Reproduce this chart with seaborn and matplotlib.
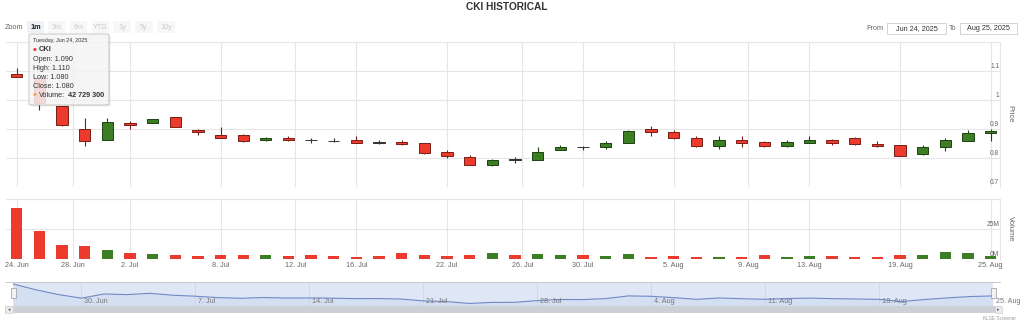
import numpy as np
import pandas as pd
import matplotlib
matplotlib.use("Agg")
import matplotlib.pyplot as plt
import seaborn as sns
from matplotlib.patches import Rectangle, FancyBboxPatch
from matplotlib.lines import Line2D

# ---------------- data ----------------
dates = ["2025-06-24", "2025-06-25", "2025-06-26", "2025-06-27", "2025-06-30",
         "2025-07-02", "2025-07-03", "2025-07-04", "2025-07-07", "2025-07-08",
         "2025-07-09", "2025-07-10", "2025-07-11", "2025-07-14", "2025-07-15",
         "2025-07-16", "2025-07-17", "2025-07-18", "2025-07-21", "2025-07-22",
         "2025-07-23", "2025-07-24", "2025-07-25", "2025-07-28", "2025-07-29",
         "2025-07-30", "2025-07-31", "2025-08-01", "2025-08-04", "2025-08-05",
         "2025-08-06", "2025-08-07", "2025-08-08", "2025-08-11", "2025-08-12",
         "2025-08-13", "2025-08-14", "2025-08-15", "2025-08-18", "2025-08-19",
         "2025-08-20", "2025-08-21", "2025-08-22", "2025-08-25"]
open_ = [1.090, 1.075, 0.980, 0.900, 0.862, 0.921, 0.920, 0.940, 0.897, 0.880,
         0.880, 0.862, 0.870, 0.863, 0.860, 0.863, 0.854, 0.855, 0.851, 0.821,
         0.805, 0.778, 0.795, 0.793, 0.828, 0.838, 0.838, 0.853, 0.900, 0.890,
         0.869, 0.842, 0.862, 0.854, 0.842, 0.852, 0.861, 0.870, 0.849, 0.844,
         0.813, 0.839, 0.860, 0.885]
high = [1.110, 1.080, 0.980, 0.937, 0.937, 0.929, 0.936, 0.940, 0.901, 0.906,
        0.884, 0.872, 0.876, 0.871, 0.868, 0.876, 0.862, 0.862, 0.851, 0.828,
        0.810, 0.798, 0.805, 0.839, 0.845, 0.843, 0.859, 0.897, 0.910, 0.897,
        0.875, 0.876, 0.876, 0.859, 0.864, 0.876, 0.866, 0.872, 0.858, 0.846,
        0.846, 0.870, 0.897, 0.899]
low = [1.080, 0.965, 0.910, 0.841, 0.862, 0.901, 0.920, 0.906, 0.878, 0.868,
       0.854, 0.858, 0.859, 0.851, 0.854, 0.851, 0.847, 0.844, 0.814, 0.799,
       0.776, 0.774, 0.782, 0.793, 0.833, 0.828, 0.832, 0.853, 0.877, 0.865,
       0.839, 0.833, 0.840, 0.839, 0.839, 0.852, 0.845, 0.846, 0.839, 0.807,
       0.811, 0.824, 0.860, 0.860]
close = [1.080, 0.990, 0.915, 0.860, 0.925, 0.915, 0.935, 0.906, 0.890, 0.868,
         0.858, 0.870, 0.862, 0.863, 0.860, 0.853, 0.854, 0.847, 0.818, 0.808,
         0.778, 0.794, 0.795, 0.822, 0.839, 0.838, 0.853, 0.895, 0.889, 0.868,
         0.842, 0.863, 0.851, 0.842, 0.854, 0.861, 0.852, 0.847, 0.841, 0.808,
         0.839, 0.864, 0.885, 0.895]
volume_m = [42.73, 23.7, 11.7, 11.1, 7.7, 5.1, 3.9, 2.8, 2.2, 3.1,
            3.6, 2.8, 2.2, 2.8, 2.6, 1.7, 2.2, 4.5, 2.8, 2.5,
            3.1, 5.1, 3.6, 3.9, 2.8, 3.1, 2.5, 3.9, 1.9, 2.0,
            1.7, 1.1, 1.7, 2.8, 1.7, 2.2, 2.5, 1.7, 1.7, 2.8,
            3.1, 6.0, 4.5, 2.2]

x_tick_labels = ["24. Jun", "28. Jun", "2. Jul", "8. Jul", "12. Jul", "16. Jul", "22. Jul",
                 "26. Jul", "30. Jul", "5. Aug", "9. Aug", "13. Aug", "19. Aug", "25. Aug"]
x_tick_pos = [0, 2.47, 5, 9, 12.3, 15, 19, 22.33, 25, 29, 32.3, 35, 39, 43]
nav_tick_labels = ["30. Jun", "7. Jul", "14. Jul", "21. Jul", "28. Jul", "4. Aug",
                   "11. Aug", "18. Aug", "25. Aug"]
nav_tick_pos = [3, 8, 13, 18, 23, 28, 33, 38, 43]
price_ticks = [0.7, 0.8, 0.9, 1.0, 1.1]
price_tick_labels = ["0.7", "0.8", "0.9", "1", "1.1"]
vol_ticks = [0, 25]
vol_tick_labels = ["0M", "25M"]
zoom_buttons = ["1m", "3m", "6m", "YTD", "1y", "5y", "10y"]

# ---------------- style ----------------
RED = "#ec3a2c"
GREEN = "#3b7e24"
RED_EDGE = "#7a1d15"
GREEN_EDGE = "#1f4212"
GRID = "#e6e6e6"
LABEL = "#666666"

sns.set_theme(style="white")
plt.rcParams['font.family'] = ['Liberation Sans', 'DejaVu Sans']

W, H = 1024, 322
fig = plt.figure(figsize=(W / 100, H / 100), dpi=100)
fig.patch.set_facecolor("white")


def fx(x):
    return x / W


def fy(y):
    return 1 - y / H


def rect(x0, y0, x1, y1):
    return [fx(x0), fy(y1), (x1 - x0) / W, (y1 - y0) / H]


o = np.array(open_)
c = np.array(close)
hi = np.array(high)
lo = np.array(low)
idx = np.arange(len(c))
up = c > o
doji = np.abs(c - o) < 0.0015

XLIM = (-0.47, 43.41)

# ---------------- price panel ----------------
axp = fig.add_axes(rect(6, 41.7, 1000, 187.3))
axp.set_facecolor("white")
wick_cols = np.where(up, GREEN_EDGE, RED_EDGE)
wick_cols = np.where(doji, "#333333", wick_cols)
axp.vlines(idx, lo, hi, colors=wick_cols, linewidth=0.8, zorder=2)
body_h = np.where(doji, 0.0012, np.abs(c - o))
body_b = np.where(doji, c - 0.0006, np.minimum(o, c))
fill = np.where(up, GREEN, RED)
fill = np.where(doji, "#333333", fill)
edge = np.where(up, GREEN_EDGE, RED_EDGE)
edge = np.where(doji, "#333333", edge)
axp.bar(idx, body_h, bottom=body_b, width=0.5, color=fill, edgecolor=edge,
        linewidth=0.7, zorder=3)
axp.set_xlim(*XLIM)
axp.set_ylim(0.7, 1.2)
axp.set_yticks([0.7, 0.8, 0.9, 1.0, 1.1, 1.2])
axp.set_xticks(x_tick_pos)
axp.set_xticklabels([])
axp.set_yticklabels([])
axp.tick_params(length=0)
axp.grid(True, color=GRID, linewidth=0.8)
axp.set_axisbelow(True)
for s in ["left", "bottom"]:
    axp.spines[s].set_visible(False)
for s in ["top", "right"]:
    axp.spines[s].set_color(GRID)
    axp.spines[s].set_linewidth(0.8)
for v, lab in zip(price_ticks, price_tick_labels):
    axp.annotate(lab, xy=(1, v), xycoords=("axes fraction", "data"),
                 xytext=(-0.6, 0.6), textcoords="offset points",
                 ha="right", va="bottom", fontsize=4.8, color=LABEL)

# ---------------- volume panel ----------------
axv = fig.add_axes(rect(6, 199.3, 1000, 258.8))
df_vol = pd.DataFrame({"idx": idx, "vol": volume_m,
                       "dir": np.where(up, "up", "down")})
sns.barplot(data=df_vol, x="idx", y="vol", hue="dir",
            palette={"up": GREEN, "down": RED}, dodge=False, width=0.5,
            saturation=1, errorbar=None, legend=False, linewidth=0, ax=axv)
axv.set_xlim(*XLIM)
axv.set_ylim(0, 50)
axv.set_yticks([0, 25, 50])
axv.set_yticklabels([])
axv.set_xticks(x_tick_pos)
axv.set_xticklabels(x_tick_labels, fontsize=5.2, color=LABEL)
axv.tick_params(axis="x", length=0, pad=2.2)
axv.tick_params(axis="y", length=0)
axv.set_xlabel("")
axv.set_ylabel("")
axv.grid(True, color=GRID, linewidth=0.8)
axv.set_axisbelow(True)
for s in ["left", "bottom"]:
    axv.spines[s].set_visible(False)
for s in ["top", "right"]:
    axv.spines[s].set_color(GRID)
    axv.spines[s].set_linewidth(0.8)
for v, lab in zip(vol_ticks, vol_tick_labels):
    axv.annotate(lab, xy=(1, v), xycoords=("axes fraction", "data"),
                 xytext=(-0.6, 0.6), textcoords="offset points",
                 ha="right", va="bottom", fontsize=4.8, color=LABEL)

fig.text(fx(1010), fy(114), "Price", rotation=270, ha="center", va="center",
         fontsize=5.5, color=LABEL)
fig.text(fx(1010), fy(229), "Volume", rotation=270, ha="center", va="center",
         fontsize=5.5, color=LABEL)

# ---------------- navigator ----------------
axn = fig.add_axes(rect(13, 282.3, 993, 305.7))
axn.set_facecolor("#dfe7f6")
df_nav = pd.DataFrame({"idx": idx, "close": c})
axn.fill_between(idx, c, 0.6, color="#c9d6ef", alpha=0.45, linewidth=0, zorder=1)
sns.lineplot(data=df_nav, x="idx", y="close", ax=axn, color="#7089c6",
             linewidth=0.8, zorder=2)
axn.set_xlim(0, 43)
axn.set_ylim(0.743, 1.106)
axn.set_xticks(nav_tick_pos)
axn.set_xticklabels([])
axn.set_yticks([])
axn.tick_params(length=0)
axn.grid(True, axis="x", color="#cdd6ea", linewidth=0.6)
axn.set_xlabel("")
axn.set_ylabel("")
for s in axn.spines.values():
    s.set_visible(False)
for p, lab in zip(nav_tick_pos, nav_tick_labels):
    axn.annotate(lab, xy=(p, 0.2), xycoords=("data", "axes fraction"),
                 xytext=(2, 0), textcoords="offset points", ha="left",
                 va="center", fontsize=5.2, color="#777777",
                 annotation_clip=False)

fig.add_artist(Line2D([fx(5), fx(1000)], [fy(282.3), fy(282.3)],
                      color="#c8c8c8", linewidth=0.7))
for hx in (13, 993):
    fig.add_artist(Rectangle((fx(hx - 2.5), fy(298)), 5 / W, 10 / H,
                             transform=fig.transFigure, facecolor="#f2f2f2",
                             edgecolor="#999999", linewidth=0.5, zorder=5))
# scrollbar
fig.add_artist(Rectangle((fx(5), fy(313.3)), 997 / W, 7.3 / H,
                         transform=fig.transFigure, facecolor="#cdd1d6",
                         edgecolor="none"))
for bx in (5, 994.5):
    fig.add_artist(Rectangle((fx(bx), fy(313.3)), 7.5 / W, 7.3 / H,
                             transform=fig.transFigure, facecolor="#ebebeb",
                             edgecolor="#cccccc", linewidth=0.4))
fig.text(fx(8.8), fy(309.7), "\u25c2", fontsize=3.5, color="#555555",
         ha="center", va="center", family=["DejaVu Sans"])
fig.text(fx(998.3), fy(309.7), "\u25b8", fontsize=3.5, color="#555555",
         ha="center", va="center", family=["DejaVu Sans"])
fig.text(fx(1016), fy(318), "KLSE Screener", fontsize=3.4, color="#999999",
         ha="right", va="center")

# ---------------- title & controls ----------------
fig.text(fx(507), fy(7), "CKI HISTORICAL", ha="center", va="center",
         fontsize=7.3, fontweight="bold", color="#333333")
fig.text(fx(5), fy(27.5), "Zoom", ha="left", va="center", fontsize=5.2,
         color=LABEL)
btn_x = [27, 48, 70, 92, 113, 135, 157]
btn_w = [17, 17, 17, 17, 18, 18, 18]
for i, (lab, bx, bw) in enumerate(zip(zoom_buttons, btn_x, btn_w)):
    sel = i == 0
    fig.add_artist(Rectangle((fx(bx), fy(33)), bw / W, 12 / H,
                             transform=fig.transFigure,
                             facecolor="#eef1f6" if sel else "#f7f7f7",
                             edgecolor="none"))
    fig.text(fx(bx + bw / 2), fy(27.5), lab, ha="center", va="center",
             fontsize=5.2, color="#222222" if sel else "#cccccc",
             fontweight="bold" if sel else "normal")

fig.text(fx(883), fy(28.5), "From", ha="right", va="center", fontsize=5.2,
         color=LABEL)
fig.add_artist(Rectangle((fx(887), fy(34)), 59 / W, 11 / H,
                         transform=fig.transFigure, facecolor="white",
                         edgecolor="#cccccc", linewidth=0.6))
fig.text(fx(916.5), fy(28.5), "Jun 24, 2025", ha="center", va="center",
         fontsize=5.2, color="#333333")
fig.text(fx(956), fy(28.5), "To", ha="right", va="center", fontsize=5.2,
         color=LABEL)
fig.add_artist(Rectangle((fx(960), fy(34)), 57 / W, 11 / H,
                         transform=fig.transFigure, facecolor="white",
                         edgecolor="#cccccc", linewidth=0.6))
fig.text(fx(988.5), fy(28.5), "Aug 25, 2025", ha="center", va="center",
         fontsize=5.2, color="#333333")

# ---------------- tooltip ----------------
fig.add_artist(FancyBboxPatch((fx(30.5), fy(106.5)), 80 / W, 71 / H,
                              boxstyle="round,pad=0,rounding_size=0.003",
                              transform=fig.transFigure, facecolor="black",
                              alpha=0.08, edgecolor="none", zorder=9))
fig.add_artist(FancyBboxPatch((fx(29), fy(105)), 80 / W, 71 / H,
                              boxstyle="round,pad=0,rounding_size=0.003",
                              transform=fig.transFigure,
                              facecolor=(0.97, 0.97, 0.97, 0.85),
                              edgecolor="#bdbdbd", linewidth=0.6, zorder=10))
tt_kw = dict(ha="left", va="center", color="#333333", zorder=11)
fig.text(fx(33.3), fy(40.5), "Tuesday, Jun 24, 2025", fontsize=3.9, **tt_kw)
fig.text(fx(34.3), fy(49.5), "\u25cf", fontsize=3.2, color=RED, ha="center",
         va="center", zorder=11, family=["DejaVu Sans"])
fig.text(fx(39), fy(49.5), "CKI", fontsize=5.4, fontweight="bold", **tt_kw)
fig.text(fx(33.3), fy(59.3), "Open: 1.090", fontsize=5.2, **tt_kw)
fig.text(fx(33.3), fy(68.3), "High: 1.110", fontsize=5.2, **tt_kw)
fig.text(fx(33.3), fy(77.3), "Low: 1.080", fontsize=5.2, **tt_kw)
fig.text(fx(33.3), fy(86.3), "Close: 1.080", fontsize=5.2, **tt_kw)
fig.text(fx(34.3), fy(95.3), "\u25cf", fontsize=3.2, color="#f7a35c",
         ha="center", va="center", zorder=11, family=["DejaVu Sans"])
fig.text(fx(39), fy(95.3), "Volume:", fontsize=5.2, **tt_kw)
fig.text(fx(67.5), fy(95.3), "42 729 300", fontsize=5.2, fontweight="bold",
         **tt_kw)

fig.savefig("out.png", dpi=100, facecolor="white")
